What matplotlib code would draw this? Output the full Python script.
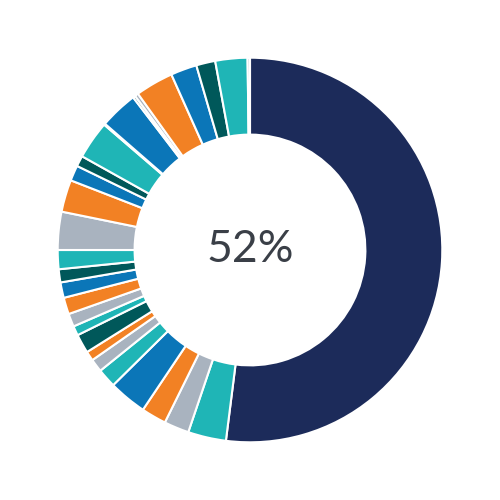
import matplotlib
matplotlib.use("Agg")
import matplotlib.pyplot as plt

NAVY, TEAL, GRAY, ORANGE, BLUE, DTEAL = "#1c2b5a", "#1fb5b6", "#a9b3bf", "#f28124", "#0b76b8", "#00585a"

values = [52, 3.2, 2.1, 2.1, 3.2, 1.6, 1.1, 0.8, 1.6, 0.8, 1.1, 1.4, 1.3, 1.1,
          1.6, 3.2, 2.7, 1.3, 0.9, 3.2, 0.1, 3.2, 0.2, 0.3, 3.2, 2.2, 1.6, 2.7, 0.2]
colors = [NAVY, TEAL, GRAY, ORANGE, BLUE, TEAL, GRAY, ORANGE, DTEAL, TEAL, GRAY,
          ORANGE, BLUE, DTEAL, TEAL, GRAY, ORANGE, BLUE, DTEAL, TEAL, ORANGE,
          BLUE, DTEAL, GRAY, ORANGE, BLUE, DTEAL, TEAL, GRAY]
center_label = "52%"

fig, ax = plt.subplots(figsize=(5, 5), dpi=100)
fig.subplots_adjust(0, 0, 1, 1)
ax.pie(values, colors=colors, startangle=90, counterclock=False, radius=1,
       wedgeprops=dict(width=0.4, edgecolor="white", linewidth=1.5))
ax.text(0, 0, center_label, ha="center", va="center", fontsize=32,
        color="#3a3f47", family="Lato")
ax.set_xlim(-1.3, 1.3)
ax.set_ylim(-1.3, 1.3)
ax.set_aspect("equal")
fig.savefig("out.png")
